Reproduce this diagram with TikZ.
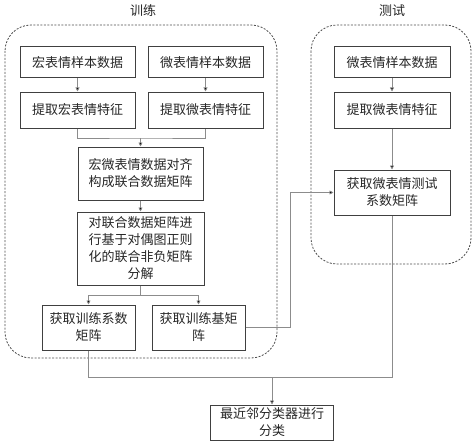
\documentclass[tikz,border=0pt]{standalone}
\usepackage{fontspec}
\setmainfont{Noto Sans CJK SC}
\usetikzlibrary{arrows.meta}

\tikzset{
  stagebox/.style={draw=black!75, line width=1pt, align=center, inner sep=0pt,
    font=\fontsize{13}{17}\selectfont, text=black!85},
  link/.style={draw=black!45, line width=0.7pt},
  linkarrow/.style={link, -{Triangle[length=4pt,width=4pt,fill=black]}},
  phase/.style={draw=black!70, line width=0.8pt, dashed, dash pattern=on 2pt off 1.5pt, rounded corners=26pt}
}

\begin{document}
\begin{tikzpicture}[x=1pt, y=-1pt]
    \useasboundingbox (0,0) rectangle (474,444);

    % Phase frames
    \draw[phase] (5,25) rectangle (277,358);
    \draw[phase] (311,25) rectangle (471,264);
    \node[font=\fontsize{13}{15}\selectfont, text=black!85] (trainlabel) at (143,11) {训练};
    \node[font=\fontsize{13}{15}\selectfont, text=black!85] (testlabel) at (392,11) {测试};

    % Training branch
    \node[stagebox, minimum width=115pt, minimum height=31pt] (macsample) at (77.5,62.5) {宏表情样本数据};
    \node[stagebox, minimum width=115pt, minimum height=31pt] (micsample) at (205.5,62.5) {微表情样本数据};
    \node[stagebox, minimum width=115pt, minimum height=36pt] (macfeat) at (77.5,110) {提取宏表情特征};
    \node[stagebox, minimum width=115pt, minimum height=36pt] (micfeat) at (205.5,110) {提取微表情特征};
    \node[stagebox, minimum width=125pt, minimum height=53pt] (align) at (140.5,173.5) {宏微表情数据对齐\\构成联合数据矩阵};
    \node[stagebox, minimum width=127pt, minimum height=73pt] (nmf) at (140.5,248.5) {对联合数据矩阵进\\行基于对偶图正则\\化的联合非负矩阵\\分解};
    \node[stagebox, minimum width=93pt, minimum height=45pt] (traincoef) at (88.5,327.5) {获取训练系数\\矩阵};
    \node[stagebox, minimum width=93pt, minimum height=45pt] (trainbasis) at (198.5,327.5) {获取训练基矩\\阵};

    % Test branch
    \node[stagebox, minimum width=116pt, minimum height=31pt] (testsample) at (392,62.5) {微表情样本数据};
    \node[stagebox, minimum width=116pt, minimum height=36pt] (testfeat) at (392,110) {提取微表情特征};
    \node[stagebox, minimum width=116pt, minimum height=45pt] (testcoef) at (392,192.5) {获取微表情测试\\系数矩阵};

    % Classifier
    \node[stagebox, minimum width=123pt, minimum height=35pt] (knn) at (272,422.5) {最近邻分类器进行\\分类};

    % Junctions
    \coordinate (featjoin) at (140.5,138);
    \coordinate (nmfsplit) at (140.5,295);
    \coordinate (basisturn) at (290,327.5);
    \coordinate (coefjoin) at (272,377.5);

    % Connectors
    \draw[linkarrow] (macsample) -- (macfeat);
    \draw[linkarrow] (micsample) -- (micfeat);
    \draw[link] (macfeat.south) |- (featjoin) -| (micfeat.south);
    \draw[linkarrow] (featjoin) -- (align.north);
    \draw[linkarrow] (align) -- (nmf);
    \draw[link] (nmf.south) -- (nmfsplit);
    \draw[linkarrow] (nmfsplit) -| (traincoef.north);
    \draw[linkarrow] (nmfsplit) -| (trainbasis.north);
    \draw[linkarrow] (testsample) -- (testfeat);
    \draw[linkarrow] (testfeat) -- (testcoef);
    \draw[linkarrow] (trainbasis.east) -- (basisturn) |- (testcoef.west);
    \draw[link] (traincoef.south) |- (coefjoin) -| (testcoef.south);
    \draw[linkarrow] (coefjoin) -- (knn.north);

\end{tikzpicture}
\end{document}
